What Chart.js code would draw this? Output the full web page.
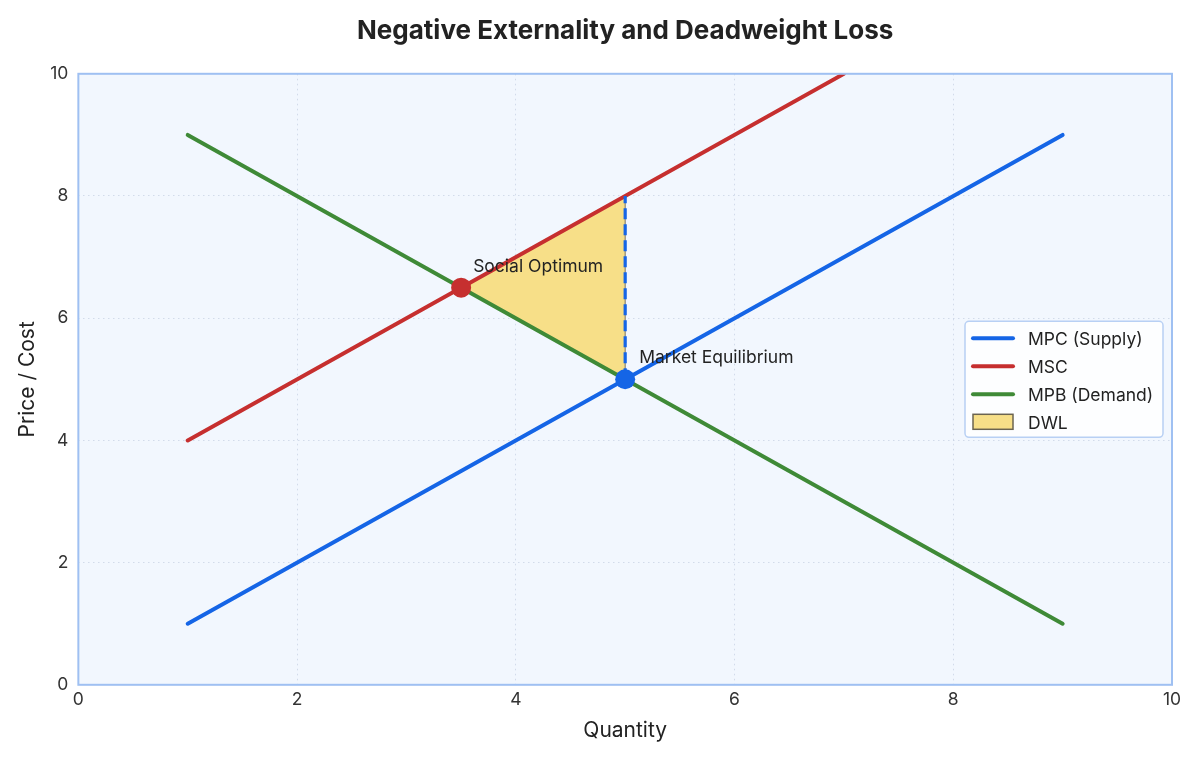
<!DOCTYPE html>
<html>
<head>
<meta charset="utf-8">
<script src="https://cdn.jsdelivr.net/npm/chart.js@4.4.1/dist/chart.umd.min.js"></script>
<style>
  html, body { margin: 0; padding: 0; background: #fff; }
  #wrap { width: 1200px; height: 761px; }
</style>
</head>
<body>
<div id="wrap"><canvas id="myChart" width="1200" height="761"></canvas></div>
<script>
// data
const mpcX = [1, 9];
const mpcY = [1, 9];
const mscX = [1, 7];
const mscY = [4, 10];
const mpbX = [1, 9];
const mpbY = [9, 1];
const dwlX = [3.5, 5, 5, 3.5];
const dwlY = [6.5, 8, 5, 6.5];
const gapX = [5, 5];
const gapY = [5, 8];
const optimum = { x: 3.5, y: 6.5, label: 'Social Optimum' };
const equilibrium = { x: 5, y: 5, label: 'Market Equilibrium' };
const axisTicks = [0, 2, 4, 6, 8, 10];
const chartTitle = 'Negative Externality and Deadweight Loss';

const BLUE = '#1565e6';
const RED = '#c62f2f';
const GREEN = '#3f8a37';
const FONT = 'Inter, "DejaVu Sans", sans-serif';

const toPts = (xs, ys) => xs.map((x, i) => ({ x: x, y: ys[i] }));

// plot background + border, title centred over the plot
const plotFrame = {
  id: 'plotFrame',
  beforeDraw(chart) {
    const { ctx, chartArea: a } = chart;
    ctx.save();
    ctx.fillStyle = '#f2f7fe';
    ctx.fillRect(a.left, a.top, a.right - a.left, a.bottom - a.top);
    ctx.restore();
  },
  afterDraw(chart) {
    const { ctx, chartArea: a } = chart;
    ctx.save();
    ctx.strokeStyle = '#9fc0f2';
    ctx.lineWidth = 2;
    ctx.strokeRect(a.left, a.top, a.right - a.left, a.bottom - a.top);
    ctx.font = 'bold 26px ' + FONT;
    ctx.fillStyle = '#222';
    ctx.textAlign = 'center';
    ctx.textBaseline = 'middle';
    ctx.fillText(chartTitle, (a.left + a.right) / 2, 31);
    ctx.restore();
  }
};

// point labels
const pointLabels = {
  id: 'pointLabels',
  afterDatasetsDraw(chart) {
    const { ctx, scales } = chart;
    ctx.save();
    ctx.font = '17.5px ' + FONT;
    ctx.fillStyle = '#222';
    ctx.textBaseline = 'middle';
    ctx.textAlign = 'left';
    ctx.fillText(optimum.label, scales.x.getPixelForValue(optimum.x) + 12, scales.y.getPixelForValue(optimum.y) - 21);
    ctx.fillText(equilibrium.label, scales.x.getPixelForValue(equilibrium.x) + 14, scales.y.getPixelForValue(equilibrium.y) - 22);
    ctx.restore();
  }
};

// legend inside the plot, right side
const innerLegend = {
  id: 'innerLegend',
  afterDraw(chart) {
    const { ctx, chartArea: a } = chart;
    const items = chart.data.datasets.filter(d => d.inLegend);
    const w = 198, rowH = 28;
    const h = items.length * rowH + 4;
    const x0 = a.right - 9 - w;
    const y0 = (a.top + a.bottom) / 2 - h / 2;
    ctx.save();
    ctx.fillStyle = 'rgba(255,255,255,0.8)';
    ctx.strokeStyle = '#b8d0f4';
    ctx.lineWidth = 1.5;
    ctx.beginPath();
    ctx.roundRect(x0, y0, w, h, 4);
    ctx.fill();
    ctx.stroke();
    ctx.font = '17.5px ' + FONT;
    ctx.textBaseline = 'middle';
    items.forEach((d, i) => {
      const cy = y0 + 17 + i * rowH;
      if (d.legendBox) {
        ctx.fillStyle = d.backgroundColor;
        ctx.fillRect(x0 + 8, cy - 8, 40, 15);
        ctx.strokeStyle = '#6b6450';
        ctx.lineWidth = 1.5;
        ctx.strokeRect(x0 + 8, cy - 8, 40, 15);
      } else {
        ctx.strokeStyle = d.borderColor;
        ctx.lineWidth = 4;
        ctx.lineCap = 'round';
        ctx.beginPath();
        ctx.moveTo(x0 + 8, cy);
        ctx.lineTo(x0 + 48, cy);
        ctx.stroke();
      }
      ctx.fillStyle = '#222';
      ctx.fillText(d.label, x0 + 63, cy + 1);
    });
    ctx.restore();
  }
};

const ctx = document.getElementById('myChart');

new Chart(ctx, {
  type: 'scatter',
  data: {
    datasets: [
      {
        label: 'MPC (Supply)',
        data: toPts(mpcX, mpcY),
        showLine: true,
        borderColor: BLUE,
        borderWidth: 4,
        borderCapStyle: 'round',
        pointRadius: 0,
        inLegend: true,
        order: 3
      },
      {
        label: 'MSC',
        data: toPts(mscX, mscY),
        showLine: true,
        borderColor: RED,
        borderWidth: 4,
        borderCapStyle: 'round',
        pointRadius: 0,
        inLegend: true,
        order: 3
      },
      {
        label: 'MPB (Demand)',
        data: toPts(mpbX, mpbY),
        showLine: true,
        borderColor: GREEN,
        borderWidth: 4,
        borderCapStyle: 'round',
        pointRadius: 0,
        inLegend: true,
        order: 3
      },
      {
        label: 'DWL',
        data: toPts(dwlX, dwlY),
        showLine: true,
        fill: 'shape',
        backgroundColor: '#f7df88',
        borderColor: '#8a8470',
        borderWidth: 1.2,
        pointRadius: 0,
        inLegend: true,
        legendBox: true,
        order: 10
      },
      {
        label: 'gap',
        data: toPts(gapX, gapY),
        showLine: true,
        borderColor: BLUE,
        borderWidth: 3.2,
        borderDash: [11, 5],
        pointRadius: 0,
        order: 2
      },
      {
        label: 'points',
        data: [{ x: optimum.x, y: optimum.y }, { x: equilibrium.x, y: equilibrium.y }],
        showLine: false,
        pointRadius: 10,
        pointBackgroundColor: [RED, BLUE],
        pointBorderWidth: 0,
        order: 1
      }
    ]
  },
  options: {
    responsive: false,
    animation: false,
    layout: {
      padding: { left: 0, right: 28, top: 0, bottom: 18 }
    },
    plugins: {
      legend: { display: false },
      tooltip: { enabled: false },
      title: {
        // spacer only; the visible title is drawn centred over the plot
        display: true,
        text: chartTitle,
        color: 'rgba(0,0,0,0)',
        font: { family: FONT, size: 24, weight: 'bold' },
        padding: { top: 16, bottom: 29 }
      }
    },
    scales: {
      x: {
        type: 'linear',
        min: 0,
        max: 10,
        afterBuildTicks: s => { s.ticks = axisTicks.map(v => ({ value: v })); },
        ticks: { color: '#333', font: { family: FONT, size: 17.5 }, padding: 4 },
        grid: { color: 'rgba(170,185,210,0.45)', drawTicks: false, lineWidth: 1 },
        border: { display: false, dash: [1.5, 3.5] },
        title: {
          display: true,
          text: 'Quantity',
          color: '#222',
          font: { family: FONT, size: 21 },
          padding: { top: 4, bottom: 0 }
        }
      },
      y: {
        type: 'linear',
        min: 0,
        max: 10,
        afterBuildTicks: s => { s.ticks = axisTicks.map(v => ({ value: v })); },
        ticks: { color: '#333', font: { family: FONT, size: 17.5 }, padding: 10 },
        grid: { color: 'rgba(170,185,210,0.45)', drawTicks: false, lineWidth: 1 },
        border: { display: false, dash: [1.5, 3.5] },
        title: {
          display: true,
          text: 'Price / Cost',
          color: '#222',
          font: { family: FONT, size: 21 },
          padding: { top: 15, bottom: 0 }
        }
      }
    }
  },
  plugins: [plotFrame, pointLabels, innerLegend]
});
</script>
</body>
</html>
